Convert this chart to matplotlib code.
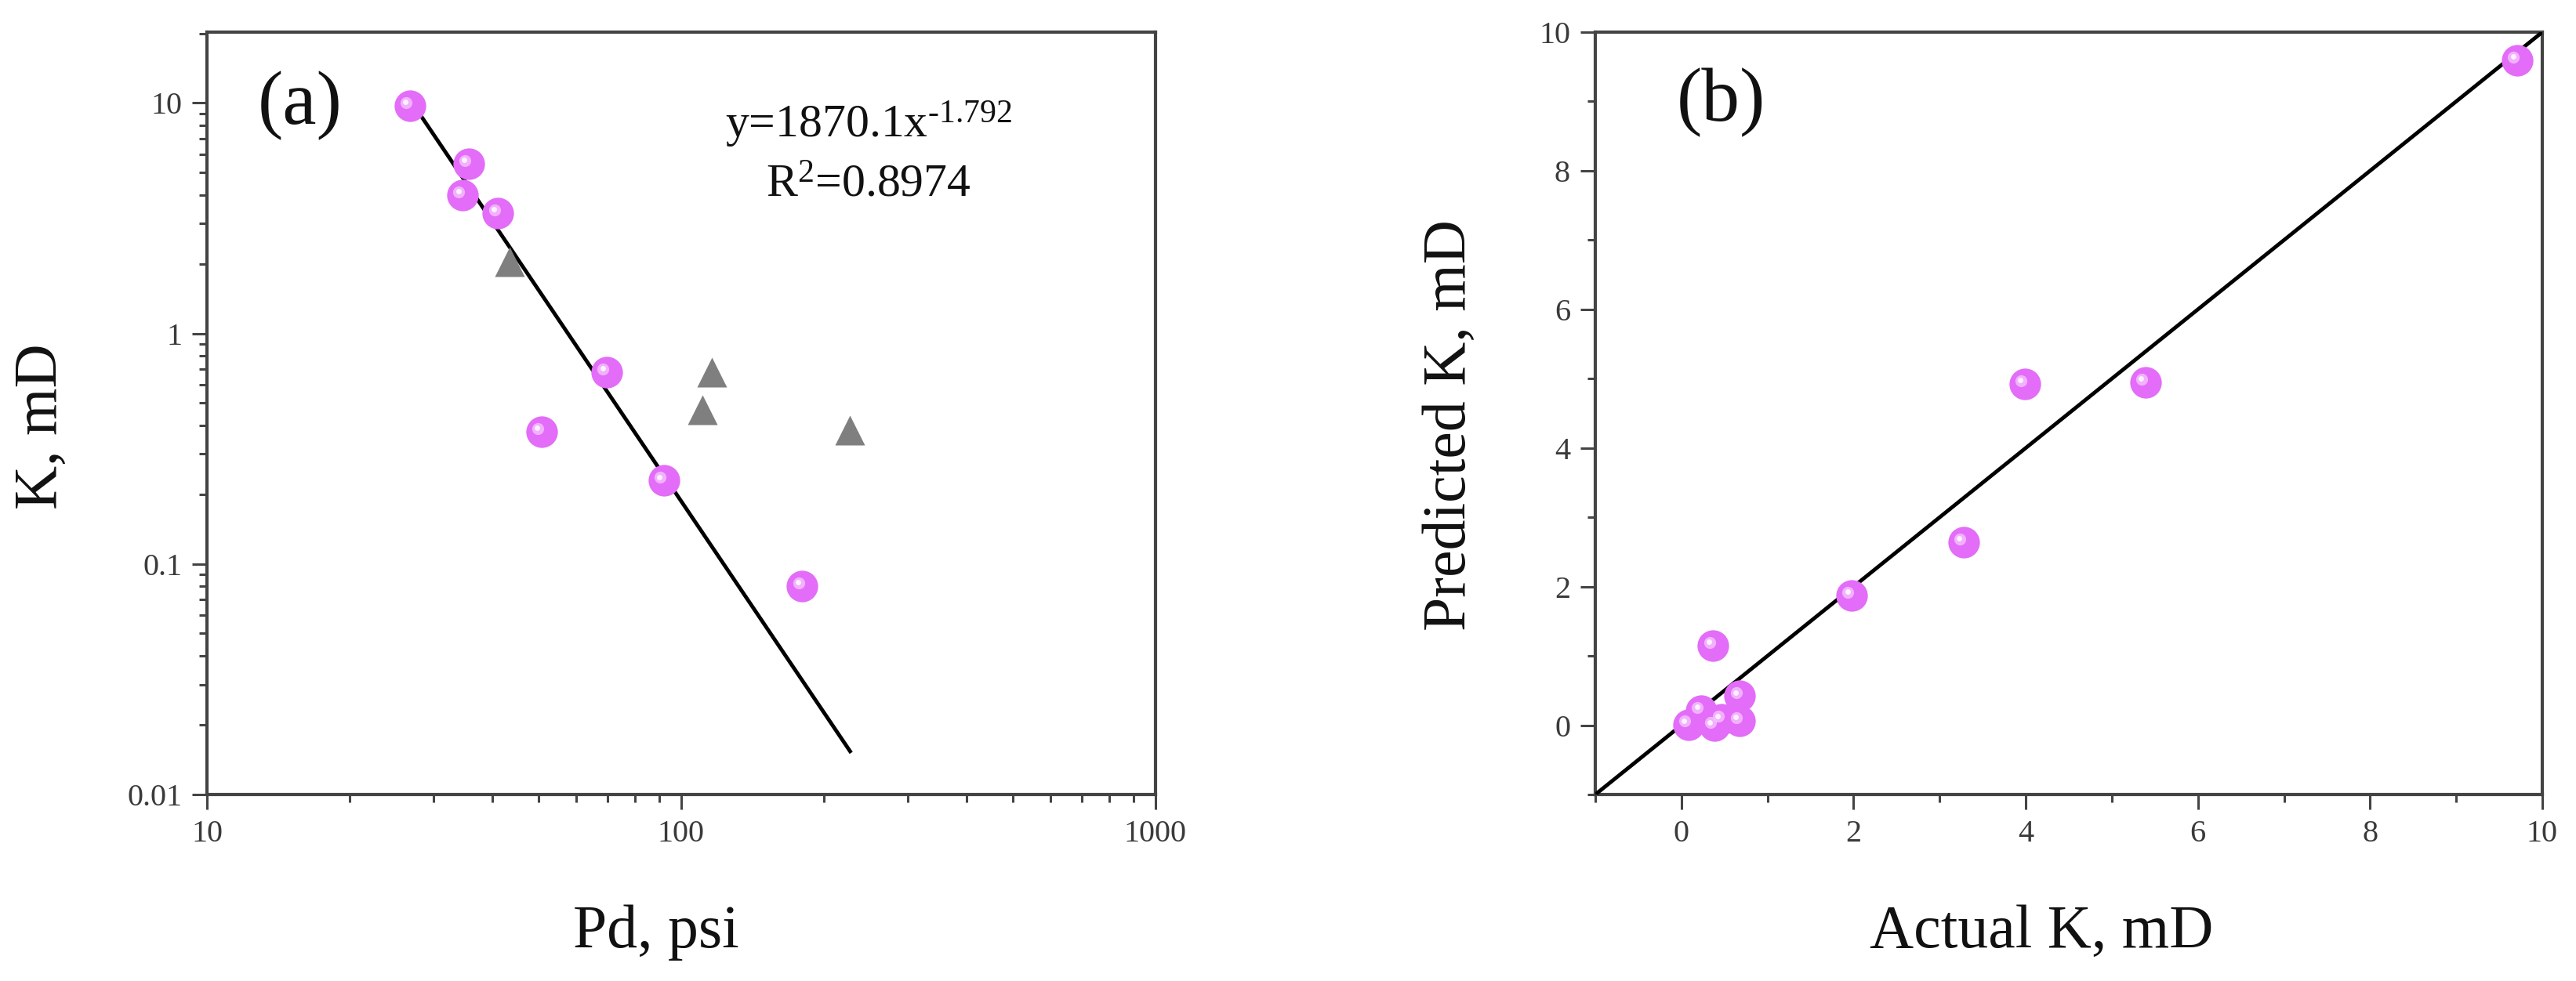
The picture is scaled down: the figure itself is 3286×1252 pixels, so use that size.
import numpy as np
import matplotlib
matplotlib.use("Agg")
import matplotlib.pyplot as plt
import matplotlib.transforms as mtransforms
from matplotlib.ticker import LogLocator, FixedLocator, NullFormatter

plt.rcParams['font.family'] = ['Liberation Serif', 'DejaVu Serif']
plt.rcParams['mathtext.fontset'] = 'custom'
plt.rcParams['mathtext.rm'] = 'Liberation Serif'
plt.rcParams['mathtext.it'] = 'Liberation Serif:italic'

# ---- Panel (a) data ----
pd_circle = [26.8, 35.6, 34.6, 41.1, 69.7, 50.7, 91.9, 180.0]
k_circle = [9.7, 5.44, 3.98, 3.33, 0.68, 0.374, 0.23, 0.080]
pd_tri = [43.4, 116.0, 111.0, 227.0]
k_tri = [2.05, 0.68, 0.466, 0.38]
fit_x = [27.1, 227.0]
fit_y = [10.0, 0.0154]
fit_eq = r'y=1870.1x$^{\text{-1.792}}$'
fit_r2 = r'R$^{2}$=0.8974'

# ---- Panel (b) data ----
actual_k = [9.71, 5.39, 3.99, 3.28, 1.98, 0.37, 0.68, 0.68, 0.38, 0.23, 0.08, 0.47]
pred_k = [9.59, 4.95, 4.92, 2.64, 1.87, 1.15, 0.42, 0.06, -0.01, 0.21, 0.01, 0.08]
ref_line = [-1, 10]

W, H = 3287, 1252
fig = plt.figure(figsize=(W / 100, H / 100), dpi=100)

PINK = '#E36CF8'
HIGHLIGHT = '#F6C9FF'
GRAY = '#7F7F7F'
SPINE = '#444444'
TICKC = '#3a3a3a'

def style_axes(ax):
    for side in ['left', 'bottom', 'right', 'top']:
        ax.spines[side].set_color(SPINE)
        ax.spines[side].set_linewidth(3.0)
    ax.tick_params(which='both', direction='out', color=SPINE, top=False, right=False,
                   labelcolor=TICKC, labelsize=29, width=2.2)
    ax.tick_params(which='major', length=14, pad=9)
    ax.tick_params(which='minor', length=7)

def spheres(ax, x, y, ms=29):
    ax.plot(x, y, 'o', ms=ms, color=PINK, mec='none', zorder=4)
    off = mtransforms.offset_copy(ax.transData, fig=fig, x=-3.5, y=3.0, units='points')
    ax.plot(x, y, 'o', ms=11, color=HIGHLIGHT, mec='none', alpha=0.75, transform=off, zorder=5)
    off2 = mtransforms.offset_copy(ax.transData, fig=fig, x=-4.0, y=3.5, units='points')
    ax.plot(x, y, 'o', ms=5, color='white', mec='none', alpha=0.8, transform=off2, zorder=6)

# Panel (a)
axa = fig.add_axes([264 / W, 1 - 1014 / H, (1474 - 264) / W, (1014 - 41) / H])
axa.set_xscale('log')
axa.set_yscale('log')
axa.set_xlim(10, 1000)
axa.set_ylim(0.01, 20.3)
style_axes(axa)
axa.xaxis.set_major_locator(FixedLocator([10, 100, 1000]))
axa.yaxis.set_major_locator(FixedLocator([0.01, 0.1, 1, 10]))
axa.set_xticklabels(['10', '100', '1000'])
axa.set_yticklabels(['0.01', '0.1', '1', '10'])
axa.xaxis.set_minor_locator(LogLocator(base=10, subs=np.arange(2, 10)))
axa.yaxis.set_minor_locator(LogLocator(base=10, subs=np.arange(2, 10)))
axa.xaxis.set_minor_formatter(NullFormatter())
axa.yaxis.set_minor_formatter(NullFormatter())

axa.plot(fit_x, fit_y, color='black', lw=3.5, zorder=3)
spheres(axa, pd_circle, k_circle)
axa.plot(pd_tri, k_tri, '^', ms=27, color=GRAY, mec='none', zorder=4)

axa.text((383 - 264) / 1210, 1 - (135 - 41) / 973, '(a)', transform=axa.transAxes,
         fontsize=70, ha='center', va='center', color='#111111')
axa.text((1108 - 264) / 1210, 1 - (159 - 41) / 973, fit_eq, transform=axa.transAxes,
         fontsize=43, ha='center', va='center', color='#111111')
axa.text((1108 - 264) / 1210, 1 - (237 - 41) / 973, fit_r2, transform=axa.transAxes,
         fontsize=43, ha='center', va='center', color='#111111')

axa.set_xlabel('Pd, psi', fontsize=56, color='#111111')
axa.set_ylabel('K, mD', fontsize=56, color='#111111')
axa.xaxis.set_label_coords((837 - 264) / 1210, -(1190 - 1014) / 973)
axa.yaxis.set_label_coords(-(264 - 53) / 1210, 1 - (544 - 41) / 973)
axa.xaxis.label.set_va('center')
axa.yaxis.label.set_va('center')

# Panel (b)
axb = fig.add_axes([2035 / W, 1 - 1014 / H, (3243 - 2035) / W, (1014 - 41) / H])
axb.set_xlim(-1, 10)
axb.set_ylim(-1, 10)
style_axes(axb)
axb.xaxis.set_major_locator(FixedLocator([0, 2, 4, 6, 8, 10]))
axb.yaxis.set_major_locator(FixedLocator([0, 2, 4, 6, 8, 10]))
axb.xaxis.set_minor_locator(FixedLocator([-1, 1, 3, 5, 7, 9]))
axb.yaxis.set_minor_locator(FixedLocator([-1, 1, 3, 5, 7, 9]))

axb.plot(ref_line, ref_line, color='black', lw=3.5, zorder=3)
spheres(axb, actual_k, pred_k)

axb.text((2195 - 2035) / 1208, 1 - (131 - 41) / 973, '(b)', transform=axb.transAxes,
         fontsize=70, ha='center', va='center', color='#111111')

axb.set_xlabel('Actual K, mD', fontsize=56, color='#111111')
axb.set_ylabel('Predicted K, mD', fontsize=56, color='#111111')
axb.xaxis.set_label_coords((2604 - 2035) / 1208, -(1190 - 1014) / 973)
axb.yaxis.set_label_coords(-(2035 - 1850) / 1208, 1 - (543 - 41) / 973)
axb.xaxis.label.set_va('center')
axb.yaxis.label.set_va('center')

fig.savefig('out.png', dpi=100)
